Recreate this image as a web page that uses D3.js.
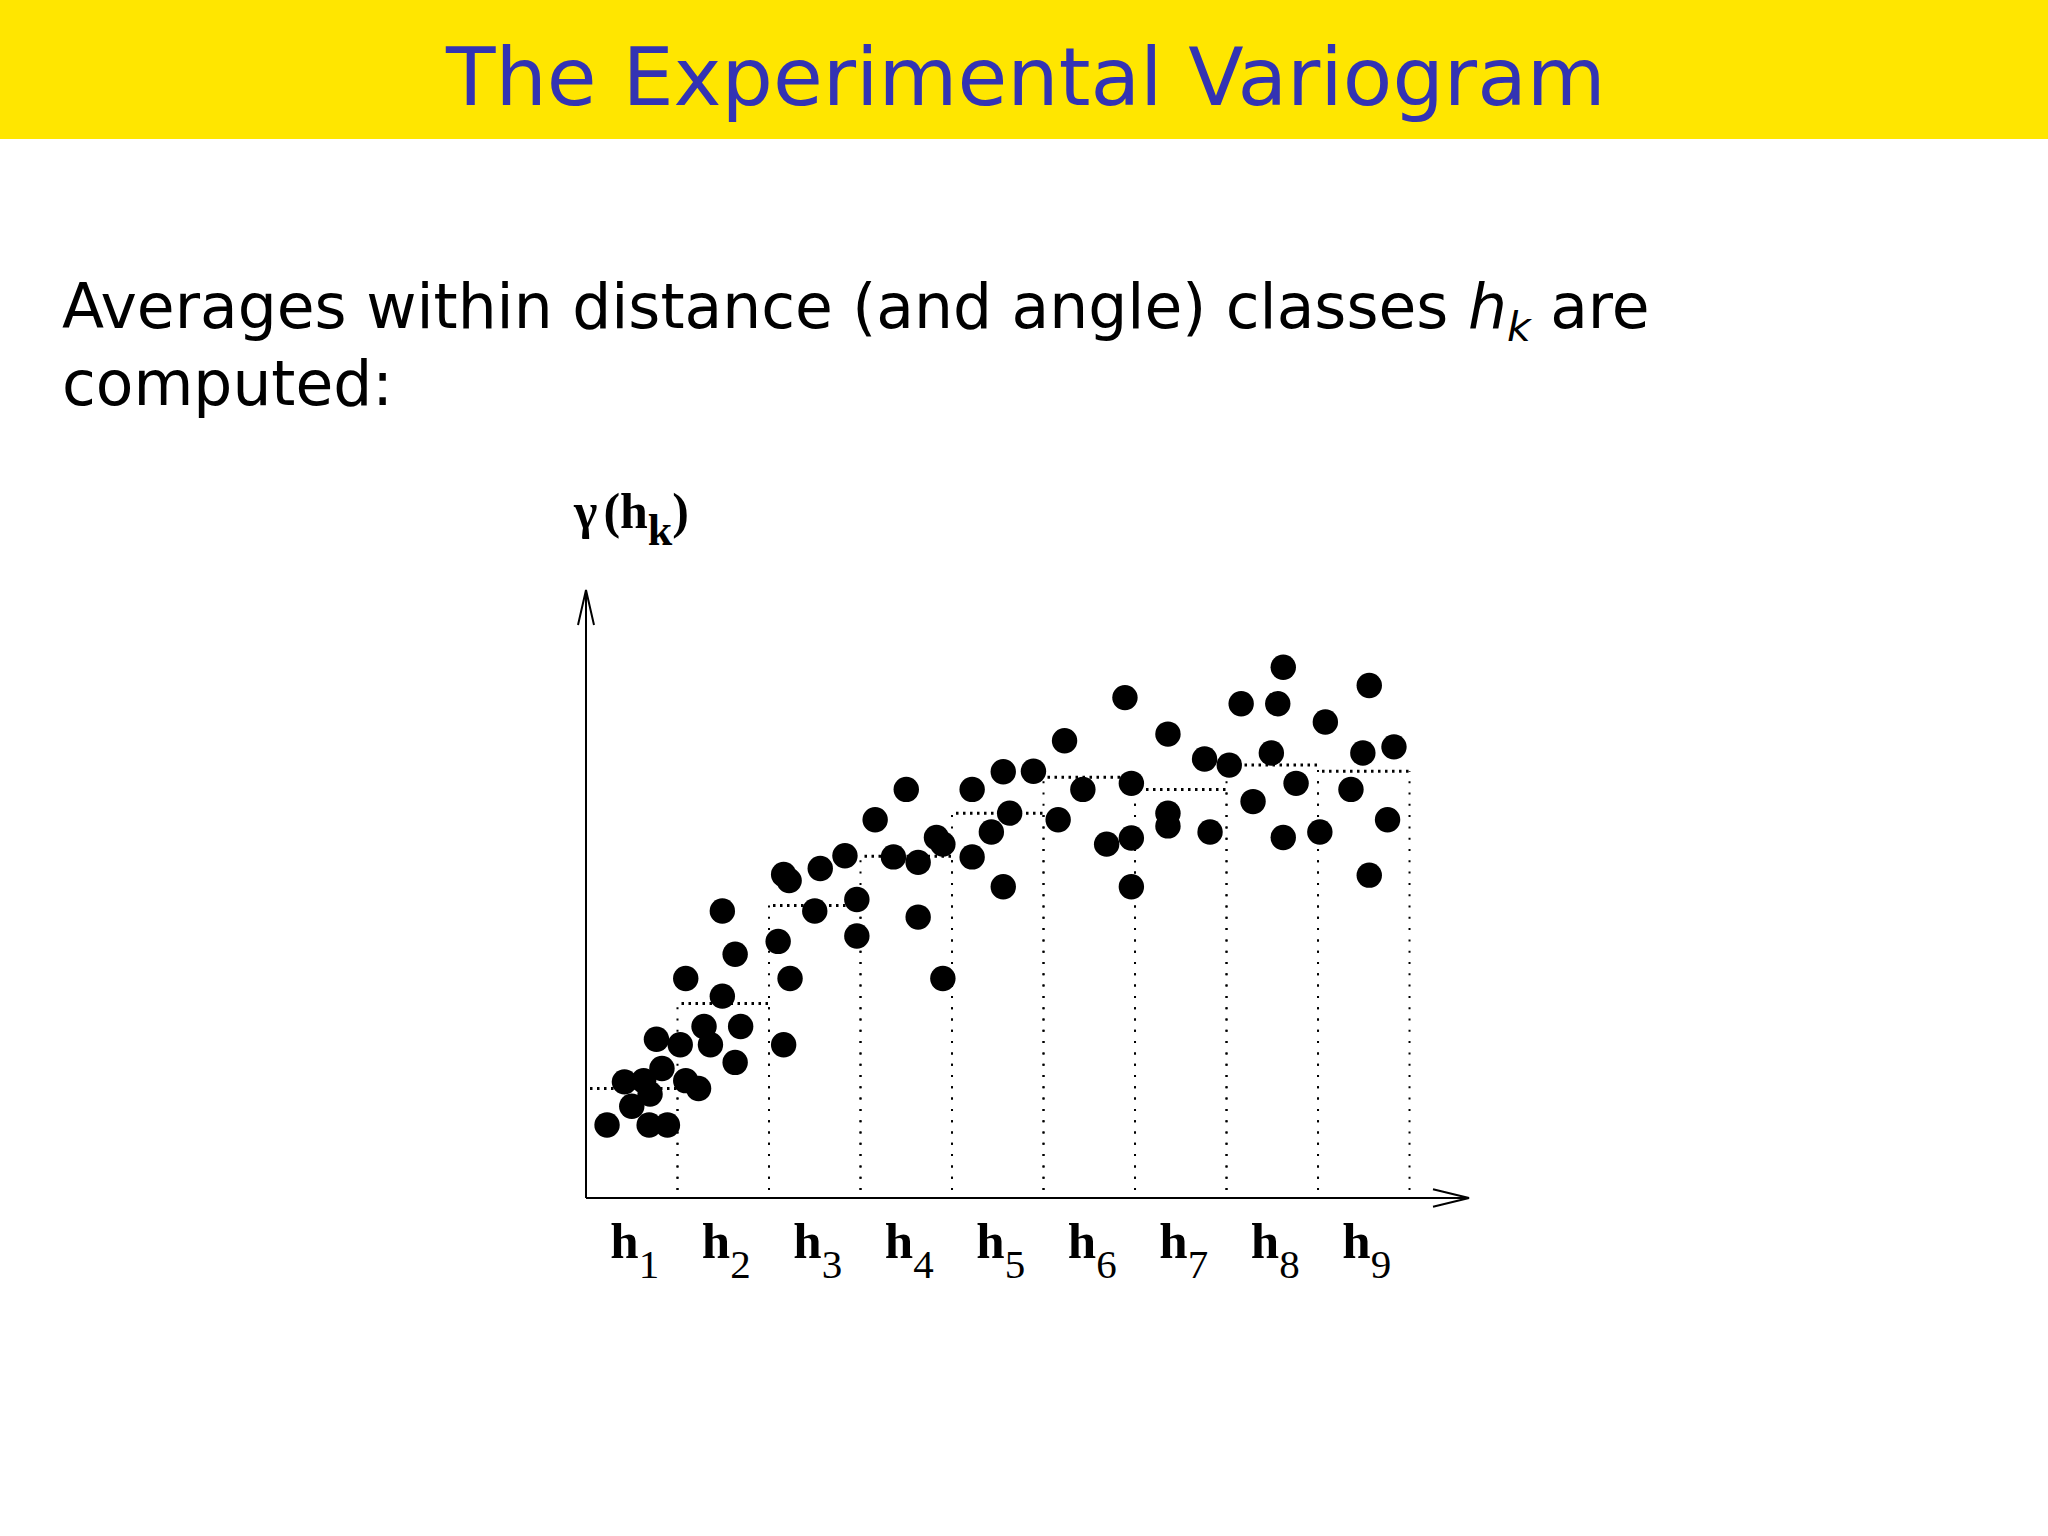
<!DOCTYPE html>
<html>
<head>
<meta charset="utf-8">
<script src="https://cdn.jsdelivr.net/npm/d3@7"></script>
<style>
  body { margin: 0; background: #fff; }
  svg { display: block; }
</style>
</head>
<body>
<div class="slide"></div>
<script>

// lag classes h1..h9 (each class is one unit wide on the distance axis)
var classes = ["1", "2", "3", "4", "5", "6", "7", "8", "9"];

// averaged semivariance per class (the dotted steps)
var classMeans = [18.0, 32.0, 48.1, 56.2, 63.3, 69.2, 67.2, 71.2, 70.2];

// point cloud: lag distance and squared difference
var pairDist = [
  0.23, 0.69, 0.89, 0.50, 0.42, 0.63, 0.70, 0.83, 0.77,
  1.03, 1.09, 1.23, 1.29, 1.36, 1.63, 1.69, 1.49, 1.09, 1.63, 1.49,
  2.16, 2.23, 2.10, 2.16, 2.22, 2.56, 2.83, 2.50, 2.96, 2.96,
  3.16, 3.50, 3.36, 3.63, 3.63, 3.83, 3.90, 3.90,
  4.22, 4.22, 4.43, 4.56, 4.63, 4.56, 4.89,
  5.16, 5.23, 5.43, 5.69, 5.89, 5.96, 5.96, 5.96,
  6.36, 6.36, 6.36, 6.76, 6.82,
  7.03, 7.16, 7.29, 7.49, 7.56, 7.62, 7.62, 7.76,
  8.02, 8.08, 8.36, 8.49, 8.56, 8.56, 8.76, 8.83
];
var pairGamma = [
  12.0, 12.0, 12.0, 15.1, 19.1, 19.3, 17.1, 21.3, 26.1,
  25.2, 19.3, 18.0, 28.2, 25.2, 22.3, 28.2, 33.2, 36.1, 40.1, 47.2,
  25.2, 36.1, 42.2, 53.2, 52.2, 54.2, 56.3, 47.2, 49.1, 43.1,
  62.2, 67.2, 56.1, 55.2, 46.2, 59.3, 58.2, 36.1,
  67.2, 56.1, 60.2, 70.1, 63.3, 51.2, 70.2,
  62.2, 75.2, 67.2, 58.2, 82.3, 68.2, 59.2, 51.2,
  76.3, 63.3, 61.2, 72.2, 60.2,
  71.2, 81.3, 65.2, 73.2, 81.3, 87.3, 59.3, 68.2,
  60.2, 78.3, 67.2, 73.2, 84.3, 53.1, 62.2, 74.2
];

var W = 2048, H = 1536;

var svg = d3.select(".slide").append("svg")
  .attr("width", W)
  .attr("height", H);

// title bar
svg.append("rect")
  .attr("x", 0).attr("y", 0)
  .attr("width", W).attr("height", 139)
  .style("fill", "#ffe600");

svg.append("text")
  .attr("x", 446)
  .attr("y", 105)
  .style("font-family", "DejaVu Sans")
  .style("font-size", "81px")
  .style("fill", "#3333b3")
  .text("The Experimental Variogram");

// body text
var body = svg.append("text")
  .attr("x", 62)
  .attr("y", 328)
  .style("font-family", "DejaVu Sans")
  .style("font-size", "61.5px")
  .style("fill", "#000");
body.append("tspan").text("Averages within distance (and angle) classes ");
body.append("tspan").style("font-style", "italic").text("h");
body.append("tspan").style("font-style", "italic").style("font-size", "41px")
  .attr("dy", 13).text("k");
body.append("tspan").attr("dy", -13).text(" are");

svg.append("text")
  .attr("x", 62)
  .attr("y", 405)
  .style("font-family", "DejaVu Sans")
  .style("font-size", "61.5px")
  .text("computed:");

/* variogram figure */

var x0 = 586, y0 = 1198;

var x = d3.scaleLinear().domain([0, 9.65]).range([x0, 1469]);
var y = d3.scaleLinear().domain([0, 100]).range([y0, 590]);

var fig = svg.append("g");

// dotted class boxes: left side, mean level, right side
classes.forEach(function(c, i) {
  var xl = x(i), xr = x(i + 1), ym = y(classMeans[i]);
  fig.append("line")
    .attr("x1", xl + 4).attr("x2", xr)
    .attr("y1", ym).attr("y2", ym)
    .style("stroke", "#000")
    .style("stroke-width", 3)
    .style("stroke-dasharray", "2.5,4.5");
  [xl, xr].forEach(function(xv, j) {
    if (i == 0 && j == 0) return;
    fig.append("line")
      .attr("x1", xv).attr("x2", xv)
      .attr("y1", y0 - 8).attr("y2", ym)
      .style("stroke", "#000")
      .style("stroke-width", 2)
      .style("stroke-dasharray", "2,9.3");
  });
});

// points
fig.selectAll("circle")
  .data(pairDist)
  .enter()
  .append("circle")
  .attr("cx", function(d) { return x(d); })
  .attr("cy", function(d, i) { return y(pairGamma[i]); })
  .attr("r", 12.7)
  .style("fill", "#000");

// axes with open arrow heads
var axisLine = d3.line();
fig.append("path")
  .attr("d", axisLine([[x0, y(0)], [x0, y(100)]]))
  .style("stroke", "#000").style("stroke-width", 2).style("fill", "none");
fig.append("path")
  .attr("d", axisLine([[x0 - 8, y(100) + 35], [x0, y(100)], [x0 + 8, y(100) + 35]]))
  .style("stroke", "#000").style("stroke-width", 2).style("fill", "none");
fig.append("path")
  .attr("d", axisLine([[x0, y0], [x(9.65), y0]]))
  .style("stroke", "#000").style("stroke-width", 2.2).style("fill", "none");
fig.append("path")
  .attr("d", axisLine([[x(9.65) - 36, y0 - 8.7], [x(9.65), y0], [x(9.65) - 36, y0 + 8.7]]))
  .style("stroke", "#000").style("stroke-width", 2).style("fill", "none");

// class labels h_k under the axis
var lab = fig.selectAll(".hlabel")
  .data(classes)
  .enter()
  .append("text")
  .attr("class", "hlabel")
  .attr("x", function(d, i) { return x(i + 0.5) + 3; })
  .attr("y", 1258)
  .style("text-anchor", "middle")
  .style("font-family", "Liberation Serif")
  .style("fill", "#000");
lab.append("tspan").style("font-weight", "bold").style("font-size", "51px").text("h");
lab.append("tspan").style("font-size", "41px").attr("dy", 20).text(function(d) { return d; });

// y label gamma(h_k)
var ylab = fig.append("text")
  .attr("x", 574)
  .attr("y", 528)
  .style("font-family", "Liberation Serif")
  .style("font-size", "50px")
  .style("font-weight", "bold")
  .style("fill", "#000");
ylab.append("tspan").text("\u03b3");
ylab.append("tspan").attr("dx", 6).text("(");
ylab.append("tspan").text("h");
ylab.append("tspan").style("font-size", "44px").attr("dy", 17).text("k");
ylab.append("tspan").attr("dy", -17).text(")");

</script>
</body>
</html>
